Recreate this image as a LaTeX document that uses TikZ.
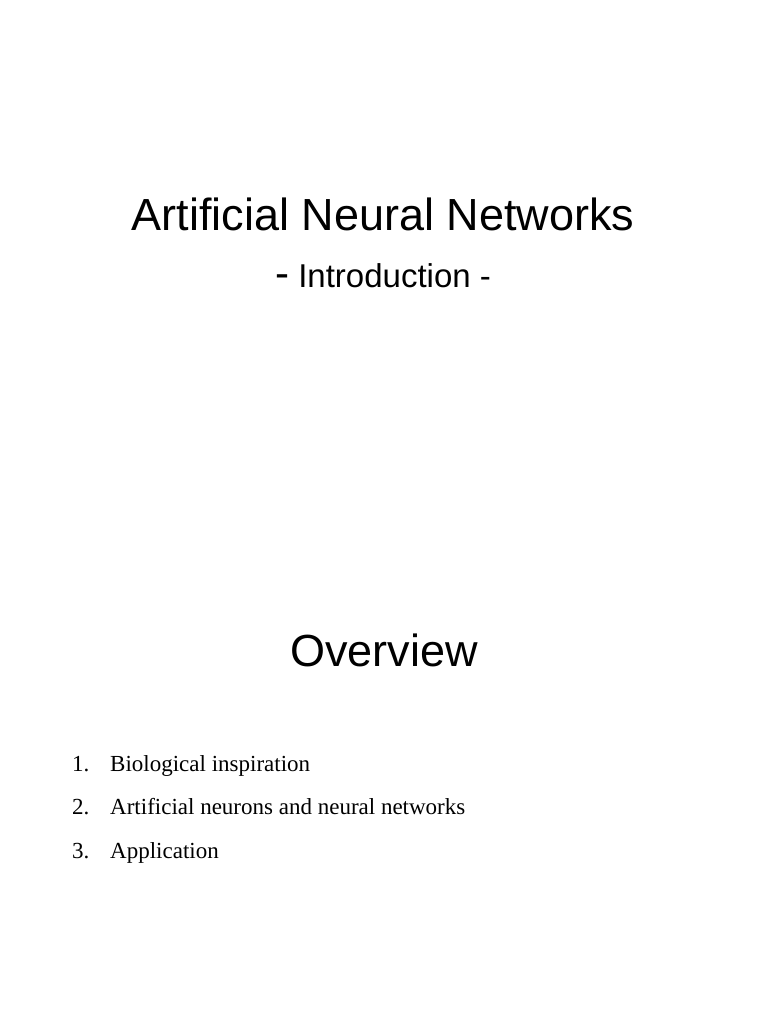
\documentclass[tikz,border=0pt]{standalone}
\usepackage{fontspec}
\setmainfont{Liberation Serif}
\newfontfamily\arialf{Liberation Sans}
\begin{document}
\begin{tikzpicture}[x=1pt,y=-1pt,
  ttl/.style={inner sep=0pt,anchor=base,font=\arialf\fontsize{45}{50}\selectfont},
  item/.style={inner sep=0pt,anchor=base west,font=\fontsize{23}{26}\selectfont}]
\useasboundingbox (0,0) rectangle (768,1024);
\node[ttl] (t) at (383,231) {Artificial Neural Networks};
\node[inner sep=0pt,anchor=base,font=\arialf\fontsize{33}{38}\selectfont] (s) at (383,287) {{\fontsize{42}{44}\selectfont -} Introduction -};
\node[ttl] (o) at (384,666) {Overview};
\node[item] (n1) at (72,771) {1.};
\node[item] (i1) at (110,771) {Biological inspiration};
\node[item] (n2) at (72,814) {2.};
\node[item] (i2) at (110,814) {Artificial neurons and neural networks};
\node[item] (n3) at (72,858) {3.};
\node[item] (i3) at (110,858) {Application};
\end{tikzpicture}
\end{document}
